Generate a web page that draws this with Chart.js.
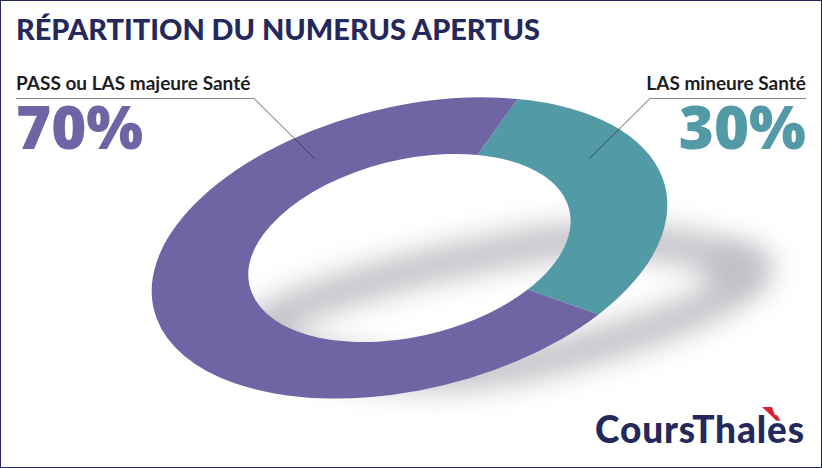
<!DOCTYPE html>
<html lang="fr">
<head>
<meta charset="utf-8">
<title>Répartition du numerus apertus</title>
<script src="https://cdn.jsdelivr.net/npm/chart.js@4"></script>
<style>
html, body { margin: 0; padding: 0; background: #fff; }
#page { position: relative; width: 822px; height: 468px; overflow: hidden; background: #fff; font-family: Lato, sans-serif; }
#page::after { content: ""; position: absolute; inset: 0; border: 1px solid #24285b; pointer-events: none; }
canvas { position: absolute; left: 0; top: 0; z-index: 1; }
.txt { position: absolute; white-space: nowrap; line-height: 1; }
#titre { left: 16px; top: 15px; font-size: 28.9px; font-weight: 900; color: #24285b; }
.cat { top: 73px; font-size: 19px; font-weight: 700; color: #1d1d1f; }
.pct { top: 96px; font-size: 60px; font-weight: 800; font-family: "Open Sans", sans-serif; }
#logo { left: 595px; top: 410px; font-size: 37px; font-weight: 900; color: #24285b; letter-spacing: 0.9px; }
#logo span { background: linear-gradient(#d8232f 35%, #24285b 35%); -webkit-background-clip: text; background-clip: text; color: transparent; }
</style>
</head>
<body>
<div id="page">
    <canvas id="doThi" width="822" height="468"></canvas>
    <div class="txt" id="titre">RÉPARTITION DU NUMERUS APERTUS</div>
    <div class="txt cat" id="cat1" style="left:16px"></div>
    <div class="txt pct" id="pct1" style="left:16px"></div>
    <div class="txt cat" id="cat0" style="right:16px"></div>
    <div class="txt pct" id="pct0" style="right:16px"></div>
    <div class="txt" id="logo">CoursThal<span>è</span>s</div>
</div>
<script>
var categories = ['LAS mineure Santé', 'PASS ou LAS majeure Santé'];
var valeurs = [30, 70];
var couleurs = ['#529aa6', '#6f64a4'];

categories.forEach(function (c, i) {
    document.getElementById('cat' + i).textContent = c;
    var p = document.getElementById('pct' + i);
    p.textContent = valeurs[i] + '%';
    p.style.color = couleurs[i];
});

// le donut est un cercle incliné : matrice
var centre = [409.5, 248];
var incline = [234, 21.5, -108.3, 149];
// ligne médiane de l'ombre
var ombre = [[250, 335], [276, 313], [383, 277], [490, 253], [561, 240], [650, 240], [735, 258],
    [755, 275], [704, 310], [597, 347], [480, 375], [370, 372], [285, 350]];

var decor = {
    id: 'decor',
    beforeDatasetsDraw: function (chart) {
        var ctx = chart.ctx;
        // ombre floue sous l'anneau
        ctx.save();
        ctx.filter = 'blur(15px)';
        ctx.strokeStyle = '#b6b4ba';
        ctx.lineWidth = 28;
        ctx.beginPath();
        var n = ombre.length;
        ctx.moveTo((ombre[n - 1][0] + ombre[0][0]) / 2, (ombre[n - 1][1] + ombre[0][1]) / 2);
        ombre.forEach(function (p, i) {
            var q = ombre[(i + 1) % n];
            ctx.quadraticCurveTo(p[0], p[1], (p[0] + q[0]) / 2, (p[1] + q[1]) / 2);
        });
        ctx.closePath();
        ctx.stroke();
        ctx.fillStyle = '#c2c0c6';
        ctx.beginPath();
        ctx.ellipse(738, 268, 34, 20, 0, 0, Math.PI * 2);
        ctx.fill();
        ctx.restore();

        var arc = chart.getDatasetMeta(0).data[0];
        var R = arc.outerRadius;
        ctx.save();
        ctx.translate(centre[0], centre[1]);
        ctx.transform(incline[0] / R, incline[1] / R, incline[2] / R, incline[3] / R, 0, 0);
        ctx.translate(-arc.x, -arc.y);
    },
    afterDatasetsDraw: function (chart) {
        var ctx = chart.ctx;
        ctx.restore();
        // traits de rappel
        ligne(ctx, '#8a8a8a', 1.2, [[16, 98.5], [254, 98.5]]);
        ligne(ctx, '#3a3a3a', 0.8, [[254, 98.5], [315, 159]]);
        ligne(ctx, '#8a8a8a', 1.2, [[650, 98.5], [806, 98.5]]);
        ligne(ctx, '#3a3a3a', 0.8, [[650, 98.5], [589, 159]]);
        // accent rouge du logo
        ctx.fillStyle = '#d8232f';
        ctx.beginPath();
        ctx.moveTo(762, 407);
        ctx.lineTo(772, 407);
        ctx.lineTo(777, 421);
        ctx.closePath();
        ctx.fill();
    }
};

function ligne(ctx, couleur, epaisseur, pts) {
    ctx.save();
    ctx.strokeStyle = couleur;
    ctx.lineWidth = epaisseur;
    ctx.beginPath();
    pts.forEach(function (p, i) {
        if (i === 0) ctx.moveTo(p[0], p[1]); else ctx.lineTo(p[0], p[1]);
    });
    ctx.stroke();
    ctx.restore();
}

new Chart(document.getElementById('doThi').getContext('2d'), {
    type: 'doughnut',
    data: {
        labels: categories,
        datasets: [{
            data: valeurs,
            backgroundColor: couleurs,
            borderWidth: 0,
            clip: false
        }]
    },
    options: {
        responsive: false,
        animation: false,
        cutout: '62.5%',
        plugins: {
            legend: { display: false },
            tooltip: { enabled: false }
        }
    },
    plugins: [decor]
});
</script>
</body>
</html>
